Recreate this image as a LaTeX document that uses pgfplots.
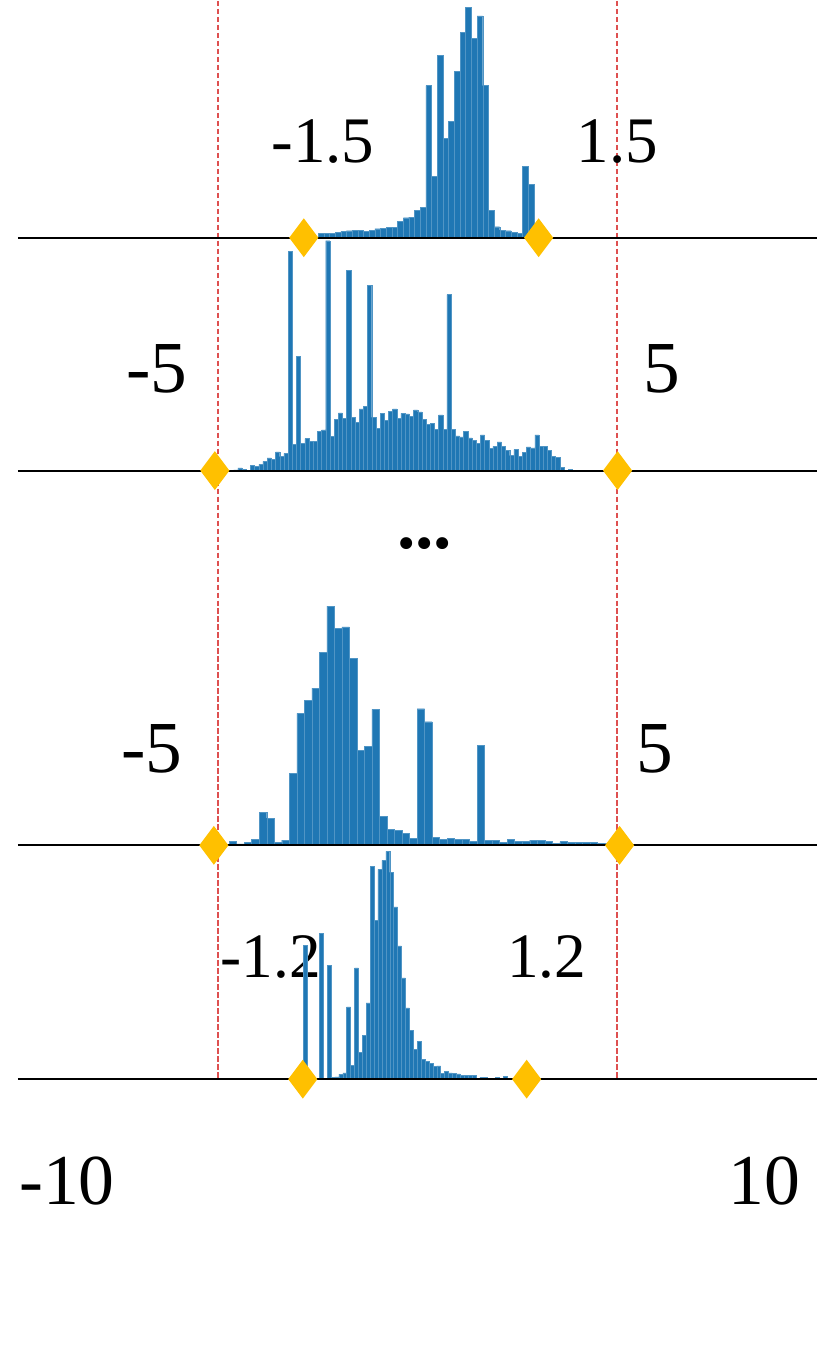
\documentclass[border=0pt]{standalone}
\usepackage{fontspec}
\setmainfont{Liberation Serif}
\usepackage{pgfplots}
\pgfplotsset{compat=1.18}

\definecolor{histblue}{RGB}{31,119,180}
\definecolor{gold}{RGB}{255,192,0}
\definecolor{guide}{RGB}{222,80,80}

% one picture pixel = 0.3pt; histogram heights are given in pixels
\pgfplotsset{
  hist/.style={hide axis, scale only axis, width=240pt, height=75pt,
    xmin=-10, xmax=10, ymin=0, ymax=250, clip=false, anchor=south west},
  bars/.style={ybar interval, fill=histblue, draw=histblue!78!white, line width=0.12pt},
  base/.style={black, line width=0.6pt},
  ends/.style={only marks, mark=diamond*, mark size=5.5pt, color=gold},
  guideline/.style={draw=guide, line width=0.55pt, dash pattern=on 1.6pt off 0.8pt},
}
\newcommand\fs[1]{\fontsize{#1}{#1}\selectfont}

\begin{document}
\begin{tikzpicture}
\path (0,0) rectangle (249pt,404.4pt);

% frame in pixel coordinates (y from the top)
\begin{axis}[hide axis, scale only axis, width=249pt, height=404.4pt,
  xmin=-10.45, xmax=10.3, ymin=0, ymax=1348, y dir=reverse,
  clip=false, at={(0,0)}, anchor=south west]
\addplot[guideline] coordinates {(-5,0) (-5,1079)};
\addplot[guideline] coordinates {(4.99,0) (4.99,1079)};
\node[anchor=base, inner sep=0pt, font=\fs{19.5pt}] at (axis cs:-2.375,162) {-1.5};
\node[anchor=base, inner sep=0pt, font=\fs{19.5pt}] at (axis cs:5.0,162) {1.5};
\node[anchor=base, inner sep=0pt, font=\fs{22pt}] at (axis cs:-6.525,392) {-5};
\node[anchor=base, inner sep=0pt, font=\fs{22pt}] at (axis cs:6.1,392) {5};
\node[anchor=base, inner sep=0pt, font=\fs{22pt}\bfseries] at (axis cs:0.175,548) {...};
\node[anchor=base, inner sep=0pt, font=\fs{22pt}] at (axis cs:-6.65,772) {-5};
\node[anchor=base, inner sep=0pt, font=\fs{22pt}] at (axis cs:5.925,772) {5};
\node[anchor=base, inner sep=0pt, font=\fs{19pt}] at (axis cs:-3.675,977) {-1.2};
\node[anchor=base, inner sep=0pt, font=\fs{19pt}] at (axis cs:3.225,977) {1.2};
\node[anchor=base, inner sep=0pt, font=\fs{21.5pt}] at (axis cs:-8.775,1204) {-10};
\node[anchor=base, inner sep=0pt, font=\fs{21.5pt}] at (axis cs:8.675,1204) {10};
\end{axis}

% panel 1, range -1.5 .. 1.5
\begin{axis}[hist, at={(5.4pt,333.3pt)}]
\addplot[bars] coordinates {
(-2.492,4.7) (-2.350,4.3) (-2.208,4.3) (-2.066,5.3) (-1.924,6.3) (-1.782,7.0)
(-1.640,7.3) (-1.498,7.7) (-1.356,6.7) (-1.214,7.3) (-1.072,9.0) (-0.930,9.3)
(-0.788,10.7) (-0.646,10.3) (-0.504,16.7) (-0.362,20.0) (-0.220,20.7) (-0.078,27.3)
(0.064,30.7) (0.206,152.3) (0.348,61.3) (0.490,182.7) (0.632,99.7) (0.774,116.3)
(0.916,166.7) (1.058,205.3) (1.200,230.7) (1.342,199.3) (1.484,222.0) (1.626,152.3)
(1.768,27.7) (1.910,11.0) (2.052,7.7) (2.194,7.0) (2.336,5.7) (2.478,4.7)
(2.620,71.7) (2.762,53.3) (2.904,0)};
\addplot[base] coordinates {(-10,0) (10,0)};
\addplot[ends] coordinates {(-2.85,0) (3.025,0)};
\end{axis}

% panel 2, range -5 .. 5
\begin{axis}[hist, at={(5.4pt,263.4pt)}]
\addplot[bars] coordinates {
(-4.708,0.5) (-4.603,0.7) (-4.498,2.7) (-4.394,1.3) (-4.289,0.3) (-4.185,5.3)
(-4.080,4.0) (-3.975,6.3) (-3.871,9.3) (-3.766,12.7) (-3.662,11.3) (-3.557,18.7)
(-3.452,14.0) (-3.348,17.3) (-3.243,219.3) (-3.139,26.0) (-3.034,114.0) (-2.929,27.3)
(-2.825,32.0) (-2.720,29.0) (-2.616,29.0) (-2.511,39.3) (-2.406,40.7) (-2.302,230.0)
(-2.197,34.3) (-2.093,51.0) (-1.988,57.7) (-1.883,52.3) (-1.779,200.7) (-1.674,53.0)
(-1.570,48.3) (-1.465,61.7) (-1.360,64.0) (-1.256,185.3) (-1.151,53.3) (-1.047,42.0)
(-0.942,57.3) (-0.837,50.3) (-0.733,59.3) (-0.628,61.7) (-0.524,52.3) (-0.419,57.3)
(-0.314,56.7) (-0.210,54.3) (-0.105,60.7) (0.000,58.7) (0.104,51.0) (0.209,46.3)
(0.313,47.0) (0.418,41.0) (0.523,55.7) (0.627,41.0) (0.732,176.0) (0.836,41.3)
(0.941,34.7) (1.046,33.7) (1.150,39.0) (1.255,32.7) (1.359,30.3) (1.464,27.0)
(1.569,35.7) (1.673,30.3) (1.778,22.3) (1.882,24.3) (1.987,28.7) (2.092,24.0)
(2.196,20.0) (2.301,15.0) (2.405,21.0) (2.510,14.0) (2.615,18.3) (2.719,23.7)
(2.824,22.7) (2.928,35.7) (3.033,24.3) (3.138,24.0) (3.242,20.0) (3.347,14.3)
(3.451,13.0) (3.556,3.3) (3.661,0.5) (3.765,1.3) (3.870,0.5) (3.974,0)};
\addplot[base] coordinates {(-10,0) (10,0)};
\addplot[ends] coordinates {(-5.075,0) (5.0,0)};
\end{axis}

% panel 3, range -5 .. 5
\begin{axis}[hist, at={(5.4pt,150.9pt)}]
\addplot[bars] coordinates {
(-4.718,3.7) (-4.530,1.5) (-4.342,3.0) (-4.154,5.7) (-3.966,33.3) (-3.778,27.3)
(-3.590,3.3) (-3.402,5.3) (-3.214,72.0) (-3.026,132.0) (-2.838,145.3) (-2.650,157.3)
(-2.462,193.0) (-2.274,239.3) (-2.086,217.3) (-1.898,218.7) (-1.710,187.0) (-1.522,95.3)
(-1.334,99.0) (-1.146,136.0) (-0.958,29.0) (-0.770,15.7) (-0.582,15.0) (-0.394,12.3)
(-0.206,6.7) (-0.018,136.7) (0.170,123.7) (0.358,8.3) (0.546,5.7) (0.734,7.3)
(0.922,6.0) (1.110,6.3) (1.298,4.3) (1.486,100.3) (1.674,5.3) (1.862,4.7)
(2.050,3.0) (2.238,6.0) (2.426,4.3) (2.614,4.3) (2.802,5.3) (2.990,5.3)
(3.178,3.7) (3.366,2.3) (3.554,3.7) (3.742,2.7) (3.930,2.7) (4.118,2.7)
(4.306,3.0) (4.494,2.0) (4.682,2.0) (4.870,1.5) (5.058,0)};
\addplot[base] coordinates {(-10,0) (10,0)};
\addplot[ends] coordinates {(-5.1,0) (5.05,0)};
\end{axis}

% panel 4, range -1.2 .. 1.2
\begin{axis}[hist, at={(5.4pt,80.7pt)}]
\addplot[bars] coordinates {
(-2.854,134.0) (-2.756,0) (-2.658,0) (-2.560,0) (-2.462,145.7) (-2.365,0)
(-2.267,114.0) (-2.169,1.7) (-2.071,2.3) (-1.973,5.0) (-1.875,6.3) (-1.777,72.3)
(-1.679,13.7) (-1.581,111.3) (-1.483,26.7) (-1.386,44.0) (-1.288,76.3) (-1.190,213.3)
(-1.092,159.0) (-0.994,210.0) (-0.896,219.0) (-0.798,228.0) (-0.700,207.0) (-0.602,172.3)
(-0.504,133.3) (-0.407,101.3) (-0.309,71.3) (-0.211,49.0) (-0.113,29.7) (-0.015,37.7)
(0.083,20.0) (0.181,18.0) (0.279,15.7) (0.377,12.7) (0.475,13.3) (0.573,5.7)
(0.670,8.0) (0.768,6.3) (0.866,5.7) (0.964,5.3) (1.062,3.5) (1.160,4.0)
(1.258,3.7) (1.356,3.5) (1.454,0.3) (1.552,1.7) (1.649,1.7) (1.747,0.7)
(1.845,0.7) (1.943,1.7) (2.041,0.7) (2.139,2.7) (2.237,0.5) (2.335,0)};
\addplot[base] coordinates {(-10,0) (10,0)};
\addplot[ends] coordinates {(-2.875,0) (2.725,0)};
\end{axis}
\end{tikzpicture}
\end{document}
